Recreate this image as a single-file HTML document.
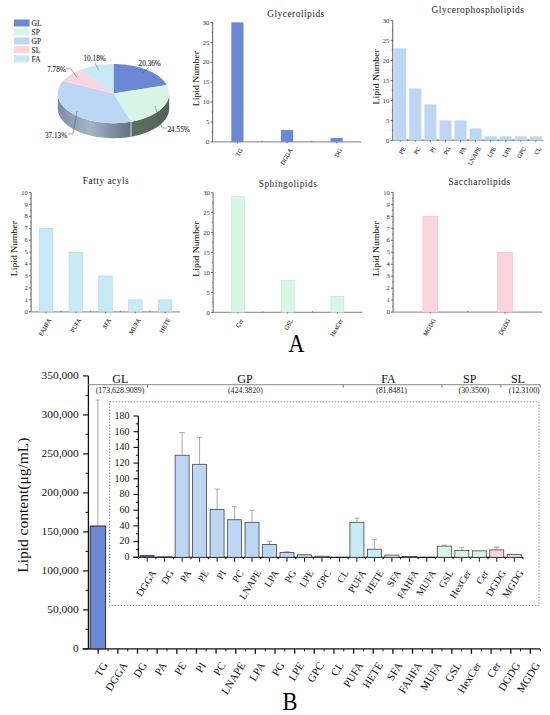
<!DOCTYPE html>
<html><head><meta charset="utf-8"><style>
html,body{margin:0;padding:0;background:#fff;}
svg{display:block;font-family:'Liberation Serif',serif;}
</style></head><body>
<svg width="550" height="715" viewBox="0 0 550 715">
<rect width="550" height="715" fill="#fff"/>
<rect x="14" y="19.50" width="15.5" height="7" fill="#6a88d4"/>
<text x="31.6" y="26.00" font-size="7.5" fill="#2a2a2a" stroke="#2a2a2a" stroke-width="0.12">GL</text>
<rect x="14" y="28.45" width="15.5" height="7" fill="#d8f6e8"/>
<text x="31.6" y="34.95" font-size="7.5" fill="#2a2a2a" stroke="#2a2a2a" stroke-width="0.12">SP</text>
<rect x="14" y="37.40" width="15.5" height="7" fill="#bcd6f3"/>
<text x="31.6" y="43.90" font-size="7.5" fill="#2a2a2a" stroke="#2a2a2a" stroke-width="0.12">GP</text>
<rect x="14" y="46.35" width="15.5" height="7" fill="#fcd4db"/>
<text x="31.6" y="52.85" font-size="7.5" fill="#2a2a2a" stroke="#2a2a2a" stroke-width="0.12">SL</text>
<rect x="14" y="55.30" width="15.5" height="7" fill="#c8e9f6"/>
<text x="31.6" y="61.80" font-size="7.5" fill="#2a2a2a" stroke="#2a2a2a" stroke-width="0.12">FA</text>
<defs><linearGradient id="gpside" x1="57" x2="131" y1="0" y2="0" gradientUnits="userSpaceOnUse"><stop offset="0" stop-color="#7c8ca3"/><stop offset="0.45" stop-color="#a3b3c8"/><stop offset="1" stop-color="#647183"/></linearGradient><linearGradient id="spside" x1="131" x2="170" y1="0" y2="0" gradientUnits="userSpaceOnUse"><stop offset="0" stop-color="#5e6e60"/><stop offset="1" stop-color="#526254"/></linearGradient></defs>
<path d="M169.20,93.60 L169.17,94.53 L169.09,95.45 L168.96,96.37 L168.76,97.29 L168.52,98.21 L168.22,99.12 L167.87,100.03 L167.47,100.93 L167.01,101.82 L166.50,102.71 L165.94,103.58 L165.32,104.45 L164.66,105.31 L163.95,106.15 L163.18,106.98 L162.37,107.80 L161.51,108.61 L160.60,109.40 L159.65,110.17 L158.65,110.93 L157.61,111.67 L156.53,112.40 L155.40,113.10 L154.23,113.79 L153.02,114.46 L151.78,115.10 L150.49,115.73 L149.17,116.33 L147.82,116.91 L146.43,117.47 L145.01,118.01 L143.56,118.52 L142.08,119.01 L140.57,119.47 L139.03,119.91 L137.47,120.32 L135.89,120.70 L134.28,121.06 L132.66,121.39 L131.01,121.70 L131.01,136.70 L132.66,136.39 L134.28,136.06 L135.89,135.70 L137.47,135.32 L139.03,134.91 L140.57,134.47 L142.08,134.01 L143.56,133.52 L145.01,133.01 L146.43,132.47 L147.82,131.91 L149.17,131.33 L150.49,130.73 L151.78,130.10 L153.02,129.46 L154.23,128.79 L155.40,128.10 L156.53,127.40 L157.61,126.67 L158.65,125.93 L159.65,125.17 L160.60,124.40 L161.51,123.61 L162.37,122.80 L163.18,121.98 L163.95,121.15 L164.66,120.31 L165.32,119.45 L165.94,118.58 L166.50,117.71 L167.01,116.82 L167.47,115.93 L167.87,115.03 L168.22,114.12 L168.52,113.21 L168.76,112.29 L168.96,111.37 L169.09,110.45 L169.17,109.53 L169.20,108.60 Z" fill="url(#spside)"/>
<path d="M131.01,121.70 L128.49,122.11 L125.94,122.45 L123.36,122.73 L120.76,122.95 L118.14,123.10 L115.52,123.18 L112.88,123.20 L110.25,123.15 L107.63,123.04 L105.02,122.85 L102.43,122.61 L99.86,122.30 L97.33,121.92 L94.83,121.49 L92.37,120.99 L89.96,120.43 L87.60,119.80 L85.30,119.12 L83.06,118.39 L80.89,117.60 L78.79,116.75 L76.77,115.85 L74.83,114.91 L72.98,113.91 L71.22,112.87 L69.56,111.79 L67.99,110.66 L66.52,109.50 L65.16,108.31 L63.91,107.08 L62.76,105.82 L61.73,104.53 L60.82,103.22 L60.02,101.88 L59.35,100.53 L58.79,99.16 L58.36,97.78 L58.05,96.39 L57.86,95.00 L57.80,93.60 L57.80,108.60 L57.86,110.00 L58.05,111.39 L58.36,112.78 L58.79,114.16 L59.35,115.53 L60.02,116.88 L60.82,118.22 L61.73,119.53 L62.76,120.82 L63.91,122.08 L65.16,123.31 L66.52,124.50 L67.99,125.66 L69.56,126.79 L71.22,127.87 L72.98,128.91 L74.83,129.91 L76.77,130.85 L78.79,131.75 L80.89,132.60 L83.06,133.39 L85.30,134.12 L87.60,134.80 L89.96,135.43 L92.37,135.99 L94.83,136.49 L97.33,136.92 L99.86,137.30 L102.43,137.61 L105.02,137.85 L107.63,138.04 L110.25,138.15 L112.88,138.20 L115.52,138.18 L118.14,138.10 L120.76,137.95 L123.36,137.73 L125.94,137.45 L128.49,137.11 L131.01,136.70 Z" fill="url(#gpside)"/>
<line x1="131.01" y1="121.70" x2="131.01" y2="136.70" stroke="#c4cccc" stroke-width="1.2"/>
<path d="M113.5,93.6 L113.50,64.00 L115.28,64.02 L117.06,64.06 L118.84,64.14 L120.61,64.24 L122.37,64.38 L124.12,64.54 L125.87,64.74 L127.60,64.96 L129.31,65.22 L131.01,65.50 L132.69,65.81 L134.36,66.15 L136.00,66.52 L137.61,66.92 L139.21,67.34 L140.77,67.79 L142.31,68.27 L143.82,68.77 L145.30,69.30 L146.75,69.85 L148.16,70.43 L149.54,71.03 L150.88,71.65 L152.18,72.30 L153.44,72.97 L154.66,73.66 L155.84,74.37 L156.97,75.10 L158.07,75.84 L159.11,76.61 L160.11,77.39 L161.06,78.19 L161.96,79.01 L162.82,79.84 L163.62,80.69 L164.37,81.54 L165.07,82.42 L165.72,83.30 L166.31,84.19 L166.85,85.09 Z" fill="#6a88d4"/>
<path d="M113.5,93.6 L166.85,85.09 L167.43,86.19 L167.92,87.30 L168.34,88.42 L168.68,89.55 L168.93,90.68 L169.10,91.82 L169.19,92.96 L169.19,94.10 L169.11,95.24 L168.95,96.38 L168.71,97.52 L168.39,98.64 L167.98,99.76 L167.49,100.88 L166.92,101.98 L166.28,103.06 L165.55,104.14 L164.75,105.20 L163.87,106.24 L162.91,107.26 L161.88,108.26 L160.79,109.24 L159.62,110.20 L158.38,111.13 L157.07,112.04 L155.70,112.92 L154.27,113.77 L152.77,114.59 L151.22,115.38 L149.61,116.14 L147.95,116.86 L146.24,117.55 L144.48,118.20 L142.67,118.82 L140.82,119.40 L138.93,119.94 L137.00,120.44 L135.03,120.90 L133.04,121.32 L131.01,121.70 Z" fill="#d8f6e8"/>
<path d="M113.5,93.6 L131.01,121.70 L127.90,122.19 L124.74,122.59 L121.54,122.89 L118.31,123.09 L115.07,123.19 L111.82,123.19 L108.58,123.08 L105.35,122.88 L102.16,122.58 L99.00,122.18 L95.89,121.68 L92.84,121.09 L89.86,120.40 L86.96,119.62 L84.15,118.76 L81.44,117.80 L78.84,116.77 L76.35,115.66 L74.00,114.47 L71.78,113.21 L69.70,111.88 L67.77,110.50 L65.99,109.05 L64.38,107.55 L62.93,106.01 L61.65,104.42 L60.56,102.80 L59.64,101.14 L58.90,99.46 L58.35,97.76 L57.99,96.04 L57.82,94.32 L57.83,92.59 L58.04,90.87 L58.43,89.16 L59.01,87.46 L59.78,85.78 L60.73,84.13 L61.86,82.51 L63.16,80.93 Z" fill="#bcd6f3"/>
<path d="M113.5,93.6 L63.16,80.93 L63.46,80.60 L63.76,80.28 L64.07,79.96 L64.39,79.64 L64.71,79.32 L65.04,79.00 L65.38,78.69 L65.73,78.38 L66.08,78.07 L66.44,77.76 L66.81,77.46 L67.19,77.16 L67.57,76.86 L67.96,76.56 L68.35,76.27 L68.75,75.97 L69.16,75.68 L69.58,75.40 L70.00,75.11 L70.43,74.83 L70.86,74.55 L71.30,74.28 L71.75,74.01 L72.20,73.74 L72.66,73.47 L73.13,73.21 L73.60,72.95 L74.08,72.69 L74.56,72.43 L75.05,72.18 L75.55,71.93 L76.05,71.69 L76.56,71.45 L77.07,71.21 L77.59,70.97 L78.11,70.74 L78.64,70.51 L79.17,70.29 L79.71,70.07 L80.25,69.85 Z" fill="#fcd4db"/>
<path d="M113.5,93.6 L80.25,69.85 L80.97,69.57 L81.70,69.30 L82.43,69.03 L83.18,68.77 L83.93,68.52 L84.69,68.27 L85.45,68.03 L86.23,67.79 L87.01,67.56 L87.79,67.34 L88.59,67.13 L89.39,66.92 L90.19,66.72 L91.00,66.52 L91.82,66.33 L92.64,66.15 L93.47,65.98 L94.31,65.81 L95.15,65.65 L95.99,65.50 L96.84,65.36 L97.69,65.22 L98.54,65.09 L99.40,64.96 L100.27,64.85 L101.13,64.74 L102.00,64.64 L102.88,64.54 L103.75,64.46 L104.63,64.38 L105.51,64.31 L106.39,64.24 L107.28,64.19 L108.16,64.14 L109.05,64.09 L109.94,64.06 L110.83,64.03 L111.72,64.02 L112.61,64.00 L113.50,64.00 Z" fill="#c8e9f6"/>
<polyline points="142,73 149.5,67" fill="none" stroke="#555" stroke-width="0.5"/>
<text transform="translate(138.6,66.4) scale(0.84,1)" font-size="8.6" fill="#2a2a2a" stroke="#2a2a2a" stroke-width="0.12">20.36%</text>
<polyline points="155,106 162,128 167,128" fill="none" stroke="#555" stroke-width="0.5"/>
<text transform="translate(167.5,131.8) scale(0.84,1)" font-size="8.6" fill="#2a2a2a" stroke="#2a2a2a" stroke-width="0.12">24.55%</text>
<polyline points="77,111 73,134 68,134" fill="none" stroke="#555" stroke-width="0.5"/>
<text transform="translate(44.9,138.2) scale(0.84,1)" font-size="8.6" fill="#2a2a2a" stroke="#2a2a2a" stroke-width="0.12">37.13%</text>
<polyline points="66,69 71.2,69 76.9,77.4" fill="none" stroke="#555" stroke-width="0.5"/>
<text transform="translate(47.2,71.9) scale(0.84,1)" font-size="8.6" fill="#2a2a2a" stroke="#2a2a2a" stroke-width="0.12">7.78%</text>
<polyline points="94.7,62.7 98.5,69.7" fill="none" stroke="#555" stroke-width="0.5"/>
<text transform="translate(83.5,61.2) scale(0.84,1)" font-size="8.6" fill="#2a2a2a" stroke="#2a2a2a" stroke-width="0.12">10.18%</text>
<line x1="212.6" y1="22.4" x2="212.6" y2="141.9" stroke="#777" stroke-width="1.2"/>
<line x1="212.15" y1="141.9" x2="361.5" y2="141.9" stroke="#9a9a9a" stroke-width="1.2"/>
<line x1="210.6" y1="141.90" x2="212.6" y2="141.90" stroke="#444" stroke-width="0.8"/>
<text x="209.29999999999998" y="144.10" font-size="6.6" text-anchor="end" fill="#333">0</text>
<line x1="210.6" y1="121.98" x2="212.6" y2="121.98" stroke="#444" stroke-width="0.8"/>
<text x="209.29999999999998" y="124.18" font-size="6.6" text-anchor="end" fill="#333">5</text>
<line x1="210.6" y1="102.07" x2="212.6" y2="102.07" stroke="#444" stroke-width="0.8"/>
<text x="209.29999999999998" y="104.27" font-size="6.6" text-anchor="end" fill="#333">10</text>
<line x1="210.6" y1="82.15" x2="212.6" y2="82.15" stroke="#444" stroke-width="0.8"/>
<text x="209.29999999999998" y="84.35" font-size="6.6" text-anchor="end" fill="#333">15</text>
<line x1="210.6" y1="62.23" x2="212.6" y2="62.23" stroke="#444" stroke-width="0.8"/>
<text x="209.29999999999998" y="64.43" font-size="6.6" text-anchor="end" fill="#333">20</text>
<line x1="210.6" y1="42.32" x2="212.6" y2="42.32" stroke="#444" stroke-width="0.8"/>
<text x="209.29999999999998" y="44.52" font-size="6.6" text-anchor="end" fill="#333">25</text>
<line x1="210.6" y1="22.40" x2="212.6" y2="22.40" stroke="#444" stroke-width="0.8"/>
<text x="209.29999999999998" y="24.60" font-size="6.6" text-anchor="end" fill="#333">30</text>
<line x1="211.6" y1="131.94" x2="212.6" y2="131.94" stroke="#444" stroke-width="0.7"/>
<line x1="211.6" y1="112.03" x2="212.6" y2="112.03" stroke="#444" stroke-width="0.7"/>
<line x1="211.6" y1="92.11" x2="212.6" y2="92.11" stroke="#444" stroke-width="0.7"/>
<line x1="211.6" y1="72.19" x2="212.6" y2="72.19" stroke="#444" stroke-width="0.7"/>
<line x1="211.6" y1="52.28" x2="212.6" y2="52.28" stroke="#444" stroke-width="0.7"/>
<line x1="211.6" y1="32.36" x2="212.6" y2="32.36" stroke="#444" stroke-width="0.7"/>
<rect x="231.32" y="22.40" width="12.2" height="119.50" fill="#6a88d4"/>
<line x1="237.42" y1="141.9" x2="237.42" y2="143.4" stroke="#444" stroke-width="0.7"/>
<text transform="translate(243.02,149.90) rotate(-60)" font-size="6.2" text-anchor="end" fill="#222" stroke="#222" stroke-width="0.08">TG</text>
<rect x="280.95" y="129.95" width="12.2" height="11.95" fill="#6a88d4"/>
<line x1="287.05" y1="141.9" x2="287.05" y2="143.4" stroke="#444" stroke-width="0.7"/>
<text transform="translate(292.65,149.90) rotate(-60)" font-size="6.2" text-anchor="end" fill="#222" stroke="#222" stroke-width="0.08">DGGA</text>
<rect x="330.58" y="137.92" width="12.2" height="3.98" fill="#6a88d4"/>
<line x1="336.68" y1="141.9" x2="336.68" y2="143.4" stroke="#444" stroke-width="0.7"/>
<text transform="translate(342.28,149.90) rotate(-60)" font-size="6.2" text-anchor="end" fill="#222" stroke="#222" stroke-width="0.08">DG</text>
<line x1="262.23" y1="140.70000000000002" x2="262.23" y2="141.9" stroke="#444" stroke-width="0.7"/>
<line x1="311.87" y1="140.70000000000002" x2="311.87" y2="141.9" stroke="#444" stroke-width="0.7"/>
<text transform="translate(198.79999999999998,78.65) rotate(-90) scale(1.09,1)" font-size="8.9" text-anchor="middle" fill="#111" stroke="#111" stroke-width="0.05">Lipid Number</text>
<text x="296" y="17" font-size="9.4" text-anchor="middle" fill="#222" letter-spacing="0.5">Glycerolipids</text>
<line x1="392.7" y1="20.4" x2="392.7" y2="140.4" stroke="#777" stroke-width="1.2"/>
<line x1="392.25" y1="140.4" x2="543.4" y2="140.4" stroke="#9a9a9a" stroke-width="1.2"/>
<line x1="390.7" y1="140.40" x2="392.7" y2="140.40" stroke="#444" stroke-width="0.8"/>
<text x="389.4" y="142.60" font-size="6.6" text-anchor="end" fill="#333">0</text>
<line x1="390.7" y1="120.40" x2="392.7" y2="120.40" stroke="#444" stroke-width="0.8"/>
<text x="389.4" y="122.60" font-size="6.6" text-anchor="end" fill="#333">5</text>
<line x1="390.7" y1="100.40" x2="392.7" y2="100.40" stroke="#444" stroke-width="0.8"/>
<text x="389.4" y="102.60" font-size="6.6" text-anchor="end" fill="#333">10</text>
<line x1="390.7" y1="80.40" x2="392.7" y2="80.40" stroke="#444" stroke-width="0.8"/>
<text x="389.4" y="82.60" font-size="6.6" text-anchor="end" fill="#333">15</text>
<line x1="390.7" y1="60.40" x2="392.7" y2="60.40" stroke="#444" stroke-width="0.8"/>
<text x="389.4" y="62.60" font-size="6.6" text-anchor="end" fill="#333">20</text>
<line x1="390.7" y1="40.40" x2="392.7" y2="40.40" stroke="#444" stroke-width="0.8"/>
<text x="389.4" y="42.60" font-size="6.6" text-anchor="end" fill="#333">25</text>
<line x1="390.7" y1="20.40" x2="392.7" y2="20.40" stroke="#444" stroke-width="0.8"/>
<text x="389.4" y="22.60" font-size="6.6" text-anchor="end" fill="#333">30</text>
<line x1="391.7" y1="130.40" x2="392.7" y2="130.40" stroke="#444" stroke-width="0.7"/>
<line x1="391.7" y1="110.40" x2="392.7" y2="110.40" stroke="#444" stroke-width="0.7"/>
<line x1="391.7" y1="90.40" x2="392.7" y2="90.40" stroke="#444" stroke-width="0.7"/>
<line x1="391.7" y1="70.40" x2="392.7" y2="70.40" stroke="#444" stroke-width="0.7"/>
<line x1="391.7" y1="50.40" x2="392.7" y2="50.40" stroke="#444" stroke-width="0.7"/>
<line x1="391.7" y1="30.40" x2="392.7" y2="30.40" stroke="#444" stroke-width="0.7"/>
<rect x="394.24" y="48.40" width="12" height="92.00" fill="#bcd6f3"/>
<line x1="400.24" y1="140.4" x2="400.24" y2="141.9" stroke="#444" stroke-width="0.7"/>
<text transform="translate(405.84,148.40) rotate(-60)" font-size="6.2" text-anchor="end" fill="#222" stroke="#222" stroke-width="0.08">PE</text>
<rect x="409.31" y="88.40" width="12" height="52.00" fill="#bcd6f3"/>
<line x1="415.31" y1="140.4" x2="415.31" y2="141.9" stroke="#444" stroke-width="0.7"/>
<text transform="translate(420.91,148.40) rotate(-60)" font-size="6.2" text-anchor="end" fill="#222" stroke="#222" stroke-width="0.08">PC</text>
<rect x="424.38" y="104.40" width="12" height="36.00" fill="#bcd6f3"/>
<line x1="430.38" y1="140.4" x2="430.38" y2="141.9" stroke="#444" stroke-width="0.7"/>
<text transform="translate(435.98,148.40) rotate(-60)" font-size="6.2" text-anchor="end" fill="#222" stroke="#222" stroke-width="0.08">PI</text>
<rect x="439.44" y="120.40" width="12" height="20.00" fill="#bcd6f3"/>
<line x1="445.44" y1="140.4" x2="445.44" y2="141.9" stroke="#444" stroke-width="0.7"/>
<text transform="translate(451.05,148.40) rotate(-60)" font-size="6.2" text-anchor="end" fill="#222" stroke="#222" stroke-width="0.08">PG</text>
<rect x="454.51" y="120.40" width="12" height="20.00" fill="#bcd6f3"/>
<line x1="460.51" y1="140.4" x2="460.51" y2="141.9" stroke="#444" stroke-width="0.7"/>
<text transform="translate(466.12,148.40) rotate(-60)" font-size="6.2" text-anchor="end" fill="#222" stroke="#222" stroke-width="0.08">PA</text>
<rect x="469.58" y="128.40" width="12" height="12.00" fill="#bcd6f3"/>
<line x1="475.58" y1="140.4" x2="475.58" y2="141.9" stroke="#444" stroke-width="0.7"/>
<text transform="translate(481.19,148.40) rotate(-60)" font-size="6.2" text-anchor="end" fill="#222" stroke="#222" stroke-width="0.08">LNAPE</text>
<rect x="484.65" y="136.40" width="12" height="4.00" fill="#bcd6f3"/>
<line x1="490.65" y1="140.4" x2="490.65" y2="141.9" stroke="#444" stroke-width="0.7"/>
<text transform="translate(496.25,148.40) rotate(-60)" font-size="6.2" text-anchor="end" fill="#222" stroke="#222" stroke-width="0.08">LPE</text>
<rect x="499.72" y="136.40" width="12" height="4.00" fill="#bcd6f3"/>
<line x1="505.72" y1="140.4" x2="505.72" y2="141.9" stroke="#444" stroke-width="0.7"/>
<text transform="translate(511.32,148.40) rotate(-60)" font-size="6.2" text-anchor="end" fill="#222" stroke="#222" stroke-width="0.08">LPA</text>
<rect x="514.79" y="136.40" width="12" height="4.00" fill="#bcd6f3"/>
<line x1="520.79" y1="140.4" x2="520.79" y2="141.9" stroke="#444" stroke-width="0.7"/>
<text transform="translate(526.39,148.40) rotate(-60)" font-size="6.2" text-anchor="end" fill="#222" stroke="#222" stroke-width="0.08">GPC</text>
<rect x="529.87" y="136.40" width="12" height="4.00" fill="#bcd6f3"/>
<line x1="535.87" y1="140.4" x2="535.87" y2="141.9" stroke="#444" stroke-width="0.7"/>
<text transform="translate(541.47,148.40) rotate(-60)" font-size="6.2" text-anchor="end" fill="#222" stroke="#222" stroke-width="0.08">CL</text>
<line x1="407.77" y1="139.20000000000002" x2="407.77" y2="140.4" stroke="#444" stroke-width="0.7"/>
<line x1="422.84" y1="139.20000000000002" x2="422.84" y2="140.4" stroke="#444" stroke-width="0.7"/>
<line x1="437.91" y1="139.20000000000002" x2="437.91" y2="140.4" stroke="#444" stroke-width="0.7"/>
<line x1="452.98" y1="139.20000000000002" x2="452.98" y2="140.4" stroke="#444" stroke-width="0.7"/>
<line x1="468.05" y1="139.20000000000002" x2="468.05" y2="140.4" stroke="#444" stroke-width="0.7"/>
<line x1="483.12" y1="139.20000000000002" x2="483.12" y2="140.4" stroke="#444" stroke-width="0.7"/>
<line x1="498.19" y1="139.20000000000002" x2="498.19" y2="140.4" stroke="#444" stroke-width="0.7"/>
<line x1="513.26" y1="139.20000000000002" x2="513.26" y2="140.4" stroke="#444" stroke-width="0.7"/>
<line x1="528.33" y1="139.20000000000002" x2="528.33" y2="140.4" stroke="#444" stroke-width="0.7"/>
<text transform="translate(378.9,76.90) rotate(-90) scale(1.09,1)" font-size="8.9" text-anchor="middle" fill="#111" stroke="#111" stroke-width="0.05">Lipid Number</text>
<text x="478" y="12.5" font-size="9.4" text-anchor="middle" fill="#222" letter-spacing="0.5">Glycerophospholipids</text>
<line x1="31.1" y1="192.4" x2="31.1" y2="311.8" stroke="#777" stroke-width="1.2"/>
<line x1="30.650000000000002" y1="311.8" x2="180" y2="311.8" stroke="#9a9a9a" stroke-width="1.2"/>
<line x1="29.1" y1="311.80" x2="31.1" y2="311.80" stroke="#444" stroke-width="0.8"/>
<text x="27.8" y="314.00" font-size="6.6" text-anchor="end" fill="#333">0</text>
<line x1="29.1" y1="299.86" x2="31.1" y2="299.86" stroke="#444" stroke-width="0.8"/>
<text x="27.8" y="302.06" font-size="6.6" text-anchor="end" fill="#333">1</text>
<line x1="29.1" y1="287.92" x2="31.1" y2="287.92" stroke="#444" stroke-width="0.8"/>
<text x="27.8" y="290.12" font-size="6.6" text-anchor="end" fill="#333">2</text>
<line x1="29.1" y1="275.98" x2="31.1" y2="275.98" stroke="#444" stroke-width="0.8"/>
<text x="27.8" y="278.18" font-size="6.6" text-anchor="end" fill="#333">3</text>
<line x1="29.1" y1="264.04" x2="31.1" y2="264.04" stroke="#444" stroke-width="0.8"/>
<text x="27.8" y="266.24" font-size="6.6" text-anchor="end" fill="#333">4</text>
<line x1="29.1" y1="252.10" x2="31.1" y2="252.10" stroke="#444" stroke-width="0.8"/>
<text x="27.8" y="254.30" font-size="6.6" text-anchor="end" fill="#333">5</text>
<line x1="29.1" y1="240.16" x2="31.1" y2="240.16" stroke="#444" stroke-width="0.8"/>
<text x="27.8" y="242.36" font-size="6.6" text-anchor="end" fill="#333">6</text>
<line x1="29.1" y1="228.22" x2="31.1" y2="228.22" stroke="#444" stroke-width="0.8"/>
<text x="27.8" y="230.42" font-size="6.6" text-anchor="end" fill="#333">7</text>
<line x1="29.1" y1="216.28" x2="31.1" y2="216.28" stroke="#444" stroke-width="0.8"/>
<text x="27.8" y="218.48" font-size="6.6" text-anchor="end" fill="#333">8</text>
<line x1="29.1" y1="204.34" x2="31.1" y2="204.34" stroke="#444" stroke-width="0.8"/>
<text x="27.8" y="206.54" font-size="6.6" text-anchor="end" fill="#333">9</text>
<line x1="29.1" y1="192.40" x2="31.1" y2="192.40" stroke="#444" stroke-width="0.8"/>
<text x="27.8" y="194.60" font-size="6.6" text-anchor="end" fill="#333">10</text>
<line x1="30.1" y1="305.83" x2="31.1" y2="305.83" stroke="#444" stroke-width="0.7"/>
<line x1="30.1" y1="293.89" x2="31.1" y2="293.89" stroke="#444" stroke-width="0.7"/>
<line x1="30.1" y1="281.95" x2="31.1" y2="281.95" stroke="#444" stroke-width="0.7"/>
<line x1="30.1" y1="270.01" x2="31.1" y2="270.01" stroke="#444" stroke-width="0.7"/>
<line x1="30.1" y1="258.07" x2="31.1" y2="258.07" stroke="#444" stroke-width="0.7"/>
<line x1="30.1" y1="246.13" x2="31.1" y2="246.13" stroke="#444" stroke-width="0.7"/>
<line x1="30.1" y1="234.19" x2="31.1" y2="234.19" stroke="#444" stroke-width="0.7"/>
<line x1="30.1" y1="222.25" x2="31.1" y2="222.25" stroke="#444" stroke-width="0.7"/>
<line x1="30.1" y1="210.31" x2="31.1" y2="210.31" stroke="#444" stroke-width="0.7"/>
<line x1="30.1" y1="198.37" x2="31.1" y2="198.37" stroke="#444" stroke-width="0.7"/>
<rect x="39.19" y="228.22" width="13.6" height="83.58" fill="#c8e9f6" stroke="#a8d4e6" stroke-width="0.5"/>
<line x1="45.99" y1="311.8" x2="45.99" y2="313.3" stroke="#444" stroke-width="0.7"/>
<text transform="translate(51.59,319.80) rotate(-60)" font-size="6.2" text-anchor="end" fill="#222" stroke="#222" stroke-width="0.08">FAHFA</text>
<rect x="68.97" y="252.10" width="13.6" height="59.70" fill="#c8e9f6" stroke="#a8d4e6" stroke-width="0.5"/>
<line x1="75.77" y1="311.8" x2="75.77" y2="313.3" stroke="#444" stroke-width="0.7"/>
<text transform="translate(81.37,319.80) rotate(-60)" font-size="6.2" text-anchor="end" fill="#222" stroke="#222" stroke-width="0.08">PUFA</text>
<rect x="98.75" y="275.98" width="13.6" height="35.82" fill="#c8e9f6" stroke="#a8d4e6" stroke-width="0.5"/>
<line x1="105.55" y1="311.8" x2="105.55" y2="313.3" stroke="#444" stroke-width="0.7"/>
<text transform="translate(111.15,319.80) rotate(-60)" font-size="6.2" text-anchor="end" fill="#222" stroke="#222" stroke-width="0.08">SFA</text>
<rect x="128.53" y="299.86" width="13.6" height="11.94" fill="#c8e9f6" stroke="#a8d4e6" stroke-width="0.5"/>
<line x1="135.33" y1="311.8" x2="135.33" y2="313.3" stroke="#444" stroke-width="0.7"/>
<text transform="translate(140.93,319.80) rotate(-60)" font-size="6.2" text-anchor="end" fill="#222" stroke="#222" stroke-width="0.08">MUFA</text>
<rect x="158.31" y="299.86" width="13.6" height="11.94" fill="#c8e9f6" stroke="#a8d4e6" stroke-width="0.5"/>
<line x1="165.11" y1="311.8" x2="165.11" y2="313.3" stroke="#444" stroke-width="0.7"/>
<text transform="translate(170.71,319.80) rotate(-60)" font-size="6.2" text-anchor="end" fill="#222" stroke="#222" stroke-width="0.08">HETE</text>
<line x1="60.88" y1="310.6" x2="60.88" y2="311.8" stroke="#444" stroke-width="0.7"/>
<line x1="90.66" y1="310.6" x2="90.66" y2="311.8" stroke="#444" stroke-width="0.7"/>
<line x1="120.44" y1="310.6" x2="120.44" y2="311.8" stroke="#444" stroke-width="0.7"/>
<line x1="150.22" y1="310.6" x2="150.22" y2="311.8" stroke="#444" stroke-width="0.7"/>
<text transform="translate(17.3,248.60) rotate(-90) scale(1.09,1)" font-size="8.9" text-anchor="middle" fill="#111" stroke="#111" stroke-width="0.05">Lipid Number</text>
<text x="106" y="184" font-size="9.4" text-anchor="middle" fill="#222" letter-spacing="0.5">Fatty acyls</text>
<line x1="213.1" y1="192.7" x2="213.1" y2="312.4" stroke="#777" stroke-width="1.2"/>
<line x1="212.65" y1="312.4" x2="362.3" y2="312.4" stroke="#9a9a9a" stroke-width="1.2"/>
<line x1="211.1" y1="312.40" x2="213.1" y2="312.40" stroke="#444" stroke-width="0.8"/>
<text x="209.79999999999998" y="314.60" font-size="6.6" text-anchor="end" fill="#333">0</text>
<line x1="211.1" y1="292.45" x2="213.1" y2="292.45" stroke="#444" stroke-width="0.8"/>
<text x="209.79999999999998" y="294.65" font-size="6.6" text-anchor="end" fill="#333">5</text>
<line x1="211.1" y1="272.50" x2="213.1" y2="272.50" stroke="#444" stroke-width="0.8"/>
<text x="209.79999999999998" y="274.70" font-size="6.6" text-anchor="end" fill="#333">10</text>
<line x1="211.1" y1="252.55" x2="213.1" y2="252.55" stroke="#444" stroke-width="0.8"/>
<text x="209.79999999999998" y="254.75" font-size="6.6" text-anchor="end" fill="#333">15</text>
<line x1="211.1" y1="232.60" x2="213.1" y2="232.60" stroke="#444" stroke-width="0.8"/>
<text x="209.79999999999998" y="234.80" font-size="6.6" text-anchor="end" fill="#333">20</text>
<line x1="211.1" y1="212.65" x2="213.1" y2="212.65" stroke="#444" stroke-width="0.8"/>
<text x="209.79999999999998" y="214.85" font-size="6.6" text-anchor="end" fill="#333">25</text>
<line x1="211.1" y1="192.70" x2="213.1" y2="192.70" stroke="#444" stroke-width="0.8"/>
<text x="209.79999999999998" y="194.90" font-size="6.6" text-anchor="end" fill="#333">30</text>
<line x1="212.1" y1="302.42" x2="213.1" y2="302.42" stroke="#444" stroke-width="0.7"/>
<line x1="212.1" y1="282.47" x2="213.1" y2="282.47" stroke="#444" stroke-width="0.7"/>
<line x1="212.1" y1="262.52" x2="213.1" y2="262.52" stroke="#444" stroke-width="0.7"/>
<line x1="212.1" y1="242.57" x2="213.1" y2="242.57" stroke="#444" stroke-width="0.7"/>
<line x1="212.1" y1="222.62" x2="213.1" y2="222.62" stroke="#444" stroke-width="0.7"/>
<line x1="212.1" y1="202.67" x2="213.1" y2="202.67" stroke="#444" stroke-width="0.7"/>
<rect x="231.47" y="196.69" width="13" height="115.71" fill="#d8f6e8" stroke="#b8e2cc" stroke-width="0.5"/>
<line x1="237.97" y1="312.4" x2="237.97" y2="313.9" stroke="#444" stroke-width="0.7"/>
<text transform="translate(243.57,320.40) rotate(-60)" font-size="6.2" text-anchor="end" fill="#222" stroke="#222" stroke-width="0.08">Cer</text>
<rect x="281.20" y="280.48" width="13" height="31.92" fill="#d8f6e8" stroke="#b8e2cc" stroke-width="0.5"/>
<line x1="287.70" y1="312.4" x2="287.70" y2="313.9" stroke="#444" stroke-width="0.7"/>
<text transform="translate(293.30,320.40) rotate(-60)" font-size="6.2" text-anchor="end" fill="#222" stroke="#222" stroke-width="0.08">GSL</text>
<rect x="330.93" y="296.44" width="13" height="15.96" fill="#d8f6e8" stroke="#b8e2cc" stroke-width="0.5"/>
<line x1="337.43" y1="312.4" x2="337.43" y2="313.9" stroke="#444" stroke-width="0.7"/>
<text transform="translate(343.03,320.40) rotate(-60)" font-size="6.2" text-anchor="end" fill="#222" stroke="#222" stroke-width="0.08">HexCer</text>
<line x1="262.83" y1="311.2" x2="262.83" y2="312.4" stroke="#444" stroke-width="0.7"/>
<line x1="312.57" y1="311.2" x2="312.57" y2="312.4" stroke="#444" stroke-width="0.7"/>
<text transform="translate(199.29999999999998,249.05) rotate(-90) scale(1.09,1)" font-size="8.9" text-anchor="middle" fill="#111" stroke="#111" stroke-width="0.05">Lipid Number</text>
<text x="288" y="187" font-size="9.4" text-anchor="middle" fill="#222" letter-spacing="0.5">Sphingolipids</text>
<line x1="393.1" y1="192.4" x2="393.1" y2="312.1" stroke="#777" stroke-width="1.2"/>
<line x1="392.65000000000003" y1="312.1" x2="542.3" y2="312.1" stroke="#9a9a9a" stroke-width="1.2"/>
<line x1="391.1" y1="312.10" x2="393.1" y2="312.10" stroke="#444" stroke-width="0.8"/>
<text x="389.8" y="314.30" font-size="6.6" text-anchor="end" fill="#333">0</text>
<line x1="391.1" y1="300.13" x2="393.1" y2="300.13" stroke="#444" stroke-width="0.8"/>
<text x="389.8" y="302.33" font-size="6.6" text-anchor="end" fill="#333">1</text>
<line x1="391.1" y1="288.16" x2="393.1" y2="288.16" stroke="#444" stroke-width="0.8"/>
<text x="389.8" y="290.36" font-size="6.6" text-anchor="end" fill="#333">2</text>
<line x1="391.1" y1="276.19" x2="393.1" y2="276.19" stroke="#444" stroke-width="0.8"/>
<text x="389.8" y="278.39" font-size="6.6" text-anchor="end" fill="#333">3</text>
<line x1="391.1" y1="264.22" x2="393.1" y2="264.22" stroke="#444" stroke-width="0.8"/>
<text x="389.8" y="266.42" font-size="6.6" text-anchor="end" fill="#333">4</text>
<line x1="391.1" y1="252.25" x2="393.1" y2="252.25" stroke="#444" stroke-width="0.8"/>
<text x="389.8" y="254.45" font-size="6.6" text-anchor="end" fill="#333">5</text>
<line x1="391.1" y1="240.28" x2="393.1" y2="240.28" stroke="#444" stroke-width="0.8"/>
<text x="389.8" y="242.48" font-size="6.6" text-anchor="end" fill="#333">6</text>
<line x1="391.1" y1="228.31" x2="393.1" y2="228.31" stroke="#444" stroke-width="0.8"/>
<text x="389.8" y="230.51" font-size="6.6" text-anchor="end" fill="#333">7</text>
<line x1="391.1" y1="216.34" x2="393.1" y2="216.34" stroke="#444" stroke-width="0.8"/>
<text x="389.8" y="218.54" font-size="6.6" text-anchor="end" fill="#333">8</text>
<line x1="391.1" y1="204.37" x2="393.1" y2="204.37" stroke="#444" stroke-width="0.8"/>
<text x="389.8" y="206.57" font-size="6.6" text-anchor="end" fill="#333">9</text>
<line x1="391.1" y1="192.40" x2="393.1" y2="192.40" stroke="#444" stroke-width="0.8"/>
<text x="389.8" y="194.60" font-size="6.6" text-anchor="end" fill="#333">10</text>
<line x1="392.1" y1="306.12" x2="393.1" y2="306.12" stroke="#444" stroke-width="0.7"/>
<line x1="392.1" y1="294.15" x2="393.1" y2="294.15" stroke="#444" stroke-width="0.7"/>
<line x1="392.1" y1="282.18" x2="393.1" y2="282.18" stroke="#444" stroke-width="0.7"/>
<line x1="392.1" y1="270.21" x2="393.1" y2="270.21" stroke="#444" stroke-width="0.7"/>
<line x1="392.1" y1="258.24" x2="393.1" y2="258.24" stroke="#444" stroke-width="0.7"/>
<line x1="392.1" y1="246.27" x2="393.1" y2="246.27" stroke="#444" stroke-width="0.7"/>
<line x1="392.1" y1="234.30" x2="393.1" y2="234.30" stroke="#444" stroke-width="0.7"/>
<line x1="392.1" y1="222.32" x2="393.1" y2="222.32" stroke="#444" stroke-width="0.7"/>
<line x1="392.1" y1="210.36" x2="393.1" y2="210.36" stroke="#444" stroke-width="0.7"/>
<line x1="392.1" y1="198.38" x2="393.1" y2="198.38" stroke="#444" stroke-width="0.7"/>
<rect x="422.90" y="216.34" width="15" height="95.76" fill="#fcd4db" stroke="#f2b8c4" stroke-width="0.5"/>
<line x1="430.40" y1="312.1" x2="430.40" y2="313.6" stroke="#444" stroke-width="0.7"/>
<text transform="translate(436.00,320.10) rotate(-60)" font-size="6.2" text-anchor="end" fill="#222" stroke="#222" stroke-width="0.08">MGDG</text>
<rect x="497.50" y="252.25" width="15" height="59.85" fill="#fcd4db" stroke="#f2b8c4" stroke-width="0.5"/>
<line x1="505.00" y1="312.1" x2="505.00" y2="313.6" stroke="#444" stroke-width="0.7"/>
<text transform="translate(510.60,320.10) rotate(-60)" font-size="6.2" text-anchor="end" fill="#222" stroke="#222" stroke-width="0.08">DGDG</text>
<line x1="467.70" y1="310.90000000000003" x2="467.70" y2="312.1" stroke="#444" stroke-width="0.7"/>
<text transform="translate(379.3,248.75) rotate(-90) scale(1.09,1)" font-size="8.9" text-anchor="middle" fill="#111" stroke="#111" stroke-width="0.05">Lipid Number</text>
<text x="479.5" y="184.5" font-size="9.4" text-anchor="middle" fill="#222" letter-spacing="0.5">Saccharolipids</text>
<text transform="translate(296.4,352.4) scale(0.9,1)" font-size="24.5" text-anchor="middle" fill="#000">A</text>
<line x1="88.4" y1="375.9" x2="88.4" y2="648.9" stroke="#111" stroke-width="1.3"/>
<line x1="82.6" y1="648.9" x2="540.2" y2="648.9" stroke="#111" stroke-width="1.3"/>
<line x1="83.10000000000001" y1="648.90" x2="88.4" y2="648.90" stroke="#111" stroke-width="1.2"/>
<text x="78.6" y="651.70" font-size="11.4" text-anchor="end" fill="#111">0</text>
<line x1="85.7" y1="629.40" x2="88.4" y2="629.40" stroke="#111" stroke-width="1.1"/>
<line x1="83.10000000000001" y1="609.90" x2="88.4" y2="609.90" stroke="#111" stroke-width="1.2"/>
<text x="78.6" y="612.70" font-size="11.4" text-anchor="end" fill="#111">50,000</text>
<line x1="85.7" y1="590.40" x2="88.4" y2="590.40" stroke="#111" stroke-width="1.1"/>
<line x1="83.10000000000001" y1="570.90" x2="88.4" y2="570.90" stroke="#111" stroke-width="1.2"/>
<text x="78.6" y="573.70" font-size="11.4" text-anchor="end" fill="#111">100,000</text>
<line x1="85.7" y1="551.40" x2="88.4" y2="551.40" stroke="#111" stroke-width="1.1"/>
<line x1="83.10000000000001" y1="531.90" x2="88.4" y2="531.90" stroke="#111" stroke-width="1.2"/>
<text x="78.6" y="534.70" font-size="11.4" text-anchor="end" fill="#111">150,000</text>
<line x1="85.7" y1="512.40" x2="88.4" y2="512.40" stroke="#111" stroke-width="1.1"/>
<line x1="83.10000000000001" y1="492.90" x2="88.4" y2="492.90" stroke="#111" stroke-width="1.2"/>
<text x="78.6" y="495.70" font-size="11.4" text-anchor="end" fill="#111">200,000</text>
<line x1="85.7" y1="473.40" x2="88.4" y2="473.40" stroke="#111" stroke-width="1.1"/>
<line x1="83.10000000000001" y1="453.90" x2="88.4" y2="453.90" stroke="#111" stroke-width="1.2"/>
<text x="78.6" y="456.70" font-size="11.4" text-anchor="end" fill="#111">250,000</text>
<line x1="85.7" y1="434.40" x2="88.4" y2="434.40" stroke="#111" stroke-width="1.1"/>
<line x1="83.10000000000001" y1="414.90" x2="88.4" y2="414.90" stroke="#111" stroke-width="1.2"/>
<text x="78.6" y="417.70" font-size="11.4" text-anchor="end" fill="#111">300,000</text>
<line x1="85.7" y1="395.40" x2="88.4" y2="395.40" stroke="#111" stroke-width="1.1"/>
<line x1="83.10000000000001" y1="375.90" x2="88.4" y2="375.90" stroke="#111" stroke-width="1.2"/>
<text x="78.6" y="378.70" font-size="11.4" text-anchor="end" fill="#111">350,000</text>
<line x1="98.22" y1="648.9" x2="98.22" y2="653.6999999999999" stroke="#111" stroke-width="1.3"/>
<text transform="translate(108.22,665.10) rotate(-58)" font-size="11" text-anchor="end" fill="#111">TG</text>
<line x1="117.87" y1="648.9" x2="117.87" y2="653.6999999999999" stroke="#111" stroke-width="1.3"/>
<text transform="translate(127.87,665.10) rotate(-58)" font-size="11" text-anchor="end" fill="#111">DGGA</text>
<line x1="137.51" y1="648.9" x2="137.51" y2="653.6999999999999" stroke="#111" stroke-width="1.3"/>
<text transform="translate(147.51,665.10) rotate(-58)" font-size="11" text-anchor="end" fill="#111">DG</text>
<line x1="157.15" y1="648.9" x2="157.15" y2="653.6999999999999" stroke="#111" stroke-width="1.3"/>
<text transform="translate(167.15,665.10) rotate(-58)" font-size="11" text-anchor="end" fill="#111">PA</text>
<line x1="176.80" y1="648.9" x2="176.80" y2="653.6999999999999" stroke="#111" stroke-width="1.3"/>
<text transform="translate(186.80,665.10) rotate(-58)" font-size="11" text-anchor="end" fill="#111">PE</text>
<line x1="196.44" y1="648.9" x2="196.44" y2="653.6999999999999" stroke="#111" stroke-width="1.3"/>
<text transform="translate(206.44,665.10) rotate(-58)" font-size="11" text-anchor="end" fill="#111">PI</text>
<line x1="216.08" y1="648.9" x2="216.08" y2="653.6999999999999" stroke="#111" stroke-width="1.3"/>
<text transform="translate(226.08,665.10) rotate(-58)" font-size="11" text-anchor="end" fill="#111">PC</text>
<line x1="235.73" y1="648.9" x2="235.73" y2="653.6999999999999" stroke="#111" stroke-width="1.3"/>
<text transform="translate(245.73,665.10) rotate(-58)" font-size="11" text-anchor="end" fill="#111">LNAPE</text>
<line x1="255.37" y1="648.9" x2="255.37" y2="653.6999999999999" stroke="#111" stroke-width="1.3"/>
<text transform="translate(265.37,665.10) rotate(-58)" font-size="11" text-anchor="end" fill="#111">LPA</text>
<line x1="275.01" y1="648.9" x2="275.01" y2="653.6999999999999" stroke="#111" stroke-width="1.3"/>
<text transform="translate(285.01,665.10) rotate(-58)" font-size="11" text-anchor="end" fill="#111">PG</text>
<line x1="294.66" y1="648.9" x2="294.66" y2="653.6999999999999" stroke="#111" stroke-width="1.3"/>
<text transform="translate(304.66,665.10) rotate(-58)" font-size="11" text-anchor="end" fill="#111">LPE</text>
<line x1="314.30" y1="648.9" x2="314.30" y2="653.6999999999999" stroke="#111" stroke-width="1.3"/>
<text transform="translate(324.30,665.10) rotate(-58)" font-size="11" text-anchor="end" fill="#111">GPC</text>
<line x1="333.94" y1="648.9" x2="333.94" y2="653.6999999999999" stroke="#111" stroke-width="1.3"/>
<text transform="translate(343.94,665.10) rotate(-58)" font-size="11" text-anchor="end" fill="#111">CL</text>
<line x1="353.59" y1="648.9" x2="353.59" y2="653.6999999999999" stroke="#111" stroke-width="1.3"/>
<text transform="translate(363.59,665.10) rotate(-58)" font-size="11" text-anchor="end" fill="#111">PUFA</text>
<line x1="373.23" y1="648.9" x2="373.23" y2="653.6999999999999" stroke="#111" stroke-width="1.3"/>
<text transform="translate(383.23,665.10) rotate(-58)" font-size="11" text-anchor="end" fill="#111">HETE</text>
<line x1="392.87" y1="648.9" x2="392.87" y2="653.6999999999999" stroke="#111" stroke-width="1.3"/>
<text transform="translate(402.87,665.10) rotate(-58)" font-size="11" text-anchor="end" fill="#111">SFA</text>
<line x1="412.52" y1="648.9" x2="412.52" y2="653.6999999999999" stroke="#111" stroke-width="1.3"/>
<text transform="translate(422.52,665.10) rotate(-58)" font-size="11" text-anchor="end" fill="#111">FAHFA</text>
<line x1="432.16" y1="648.9" x2="432.16" y2="653.6999999999999" stroke="#111" stroke-width="1.3"/>
<text transform="translate(442.16,665.10) rotate(-58)" font-size="11" text-anchor="end" fill="#111">MUFA</text>
<line x1="451.80" y1="648.9" x2="451.80" y2="653.6999999999999" stroke="#111" stroke-width="1.3"/>
<text transform="translate(461.80,665.10) rotate(-58)" font-size="11" text-anchor="end" fill="#111">GSL</text>
<line x1="471.45" y1="648.9" x2="471.45" y2="653.6999999999999" stroke="#111" stroke-width="1.3"/>
<text transform="translate(481.45,665.10) rotate(-58)" font-size="11" text-anchor="end" fill="#111">HexCer</text>
<line x1="491.09" y1="648.9" x2="491.09" y2="653.6999999999999" stroke="#111" stroke-width="1.3"/>
<text transform="translate(501.09,665.10) rotate(-58)" font-size="11" text-anchor="end" fill="#111">Cer</text>
<line x1="510.73" y1="648.9" x2="510.73" y2="653.6999999999999" stroke="#111" stroke-width="1.3"/>
<text transform="translate(520.73,665.10) rotate(-58)" font-size="11" text-anchor="end" fill="#111">DGDG</text>
<line x1="530.38" y1="648.9" x2="530.38" y2="653.6999999999999" stroke="#111" stroke-width="1.3"/>
<text transform="translate(540.38,665.10) rotate(-58)" font-size="11" text-anchor="end" fill="#111">MGDG</text>
<line x1="108.04" y1="648.9" x2="108.04" y2="651.1999999999999" stroke="#111" stroke-width="1"/>
<line x1="127.69" y1="648.9" x2="127.69" y2="651.1999999999999" stroke="#111" stroke-width="1"/>
<line x1="147.33" y1="648.9" x2="147.33" y2="651.1999999999999" stroke="#111" stroke-width="1"/>
<line x1="166.97" y1="648.9" x2="166.97" y2="651.1999999999999" stroke="#111" stroke-width="1"/>
<line x1="186.62" y1="648.9" x2="186.62" y2="651.1999999999999" stroke="#111" stroke-width="1"/>
<line x1="206.26" y1="648.9" x2="206.26" y2="651.1999999999999" stroke="#111" stroke-width="1"/>
<line x1="225.90" y1="648.9" x2="225.90" y2="651.1999999999999" stroke="#111" stroke-width="1"/>
<line x1="245.55" y1="648.9" x2="245.55" y2="651.1999999999999" stroke="#111" stroke-width="1"/>
<line x1="265.19" y1="648.9" x2="265.19" y2="651.1999999999999" stroke="#111" stroke-width="1"/>
<line x1="284.83" y1="648.9" x2="284.83" y2="651.1999999999999" stroke="#111" stroke-width="1"/>
<line x1="304.48" y1="648.9" x2="304.48" y2="651.1999999999999" stroke="#111" stroke-width="1"/>
<line x1="324.12" y1="648.9" x2="324.12" y2="651.1999999999999" stroke="#111" stroke-width="1"/>
<line x1="343.77" y1="648.9" x2="343.77" y2="651.1999999999999" stroke="#111" stroke-width="1"/>
<line x1="363.41" y1="648.9" x2="363.41" y2="651.1999999999999" stroke="#111" stroke-width="1"/>
<line x1="383.05" y1="648.9" x2="383.05" y2="651.1999999999999" stroke="#111" stroke-width="1"/>
<line x1="402.70" y1="648.9" x2="402.70" y2="651.1999999999999" stroke="#111" stroke-width="1"/>
<line x1="422.34" y1="648.9" x2="422.34" y2="651.1999999999999" stroke="#111" stroke-width="1"/>
<line x1="441.98" y1="648.9" x2="441.98" y2="651.1999999999999" stroke="#111" stroke-width="1"/>
<line x1="461.63" y1="648.9" x2="461.63" y2="651.1999999999999" stroke="#111" stroke-width="1"/>
<line x1="481.27" y1="648.9" x2="481.27" y2="651.1999999999999" stroke="#111" stroke-width="1"/>
<line x1="500.91" y1="648.9" x2="500.91" y2="651.1999999999999" stroke="#111" stroke-width="1"/>
<line x1="520.56" y1="648.9" x2="520.56" y2="651.1999999999999" stroke="#111" stroke-width="1"/>
<line x1="540.20" y1="648.9" x2="540.20" y2="651.1999999999999" stroke="#111" stroke-width="1"/>
<line x1="97.90" y1="400" x2="97.90" y2="526" stroke="#a8a8a8" stroke-width="1"/>
<line x1="95.60" y1="400" x2="100.20" y2="400" stroke="#a8a8a8" stroke-width="1"/>
<rect x="90.20" y="526" width="15.4" height="122.90" fill="#6a88d4" stroke="#222" stroke-width="0.9"/>
<line x1="88.4" y1="384.7" x2="540.2" y2="384.7" stroke="#a0a0a0" stroke-width="1.3"/>
<line x1="147.5" y1="384.7" x2="147.5" y2="387.5" stroke="#555" stroke-width="0.8"/>
<line x1="343.3" y1="384.7" x2="343.3" y2="387.5" stroke="#555" stroke-width="0.8"/>
<line x1="442" y1="384.7" x2="442" y2="387.5" stroke="#555" stroke-width="0.8"/>
<line x1="500.9" y1="384.7" x2="500.9" y2="387.5" stroke="#555" stroke-width="0.8"/>
<line x1="540.2" y1="384.7" x2="540.2" y2="387.5" stroke="#555" stroke-width="0.8"/>
<text x="120.3" y="382.6" font-size="12" text-anchor="middle" fill="#111">GL</text>
<text x="120" y="392.7" font-size="7.9" text-anchor="middle" fill="#222">(173,628.9089)</text>
<text x="245" y="382.6" font-size="12" text-anchor="middle" fill="#111">GP</text>
<text x="245.4" y="392.7" font-size="7.9" text-anchor="middle" fill="#222">(424.3820)</text>
<text x="388.5" y="382.6" font-size="12" text-anchor="middle" fill="#111">FA</text>
<text x="391.5" y="392.7" font-size="7.9" text-anchor="middle" fill="#222">(81.8481)</text>
<text x="469.8" y="382.6" font-size="12" text-anchor="middle" fill="#111">SP</text>
<text x="474" y="392.7" font-size="7.9" text-anchor="middle" fill="#222">(30.3500)</text>
<text x="517.9" y="382.6" font-size="12" text-anchor="middle" fill="#111">SL</text>
<text x="524.3" y="392.7" font-size="7.9" text-anchor="middle" fill="#222">(12.3100)</text>
<text transform="translate(28.4,505.2) rotate(-90)" font-size="15.5" text-anchor="middle" fill="#111">Lipid content(μg/mL)</text>
<rect x="109.6" y="401.8" width="429.4" height="203.7" fill="none" stroke="#7a7a7a" stroke-width="0.85" stroke-dasharray="1.5,1.5"/>
<line x1="138.4" y1="416.0" x2="138.4" y2="557.3" stroke="#111" stroke-width="1.2"/>
<line x1="133.2" y1="557.3" x2="523" y2="557.3" stroke="#111" stroke-width="1.2"/>
<line x1="133.4" y1="557.30" x2="138.4" y2="557.30" stroke="#111" stroke-width="1.1"/>
<text x="129.6" y="560.10" font-size="10" text-anchor="end" fill="#111">0</text>
<line x1="135.9" y1="549.45" x2="138.4" y2="549.45" stroke="#111" stroke-width="1"/>
<line x1="133.4" y1="541.60" x2="138.4" y2="541.60" stroke="#111" stroke-width="1.1"/>
<text x="129.6" y="544.40" font-size="10" text-anchor="end" fill="#111">20</text>
<line x1="135.9" y1="533.75" x2="138.4" y2="533.75" stroke="#111" stroke-width="1"/>
<line x1="133.4" y1="525.90" x2="138.4" y2="525.90" stroke="#111" stroke-width="1.1"/>
<text x="129.6" y="528.70" font-size="10" text-anchor="end" fill="#111">40</text>
<line x1="135.9" y1="518.05" x2="138.4" y2="518.05" stroke="#111" stroke-width="1"/>
<line x1="133.4" y1="510.20" x2="138.4" y2="510.20" stroke="#111" stroke-width="1.1"/>
<text x="129.6" y="513.00" font-size="10" text-anchor="end" fill="#111">60</text>
<line x1="135.9" y1="502.35" x2="138.4" y2="502.35" stroke="#111" stroke-width="1"/>
<line x1="133.4" y1="494.50" x2="138.4" y2="494.50" stroke="#111" stroke-width="1.1"/>
<text x="129.6" y="497.30" font-size="10" text-anchor="end" fill="#111">80</text>
<line x1="135.9" y1="486.65" x2="138.4" y2="486.65" stroke="#111" stroke-width="1"/>
<line x1="133.4" y1="478.80" x2="138.4" y2="478.80" stroke="#111" stroke-width="1.1"/>
<text x="129.6" y="481.60" font-size="10" text-anchor="end" fill="#111">100</text>
<line x1="135.9" y1="470.95" x2="138.4" y2="470.95" stroke="#111" stroke-width="1"/>
<line x1="133.4" y1="463.10" x2="138.4" y2="463.10" stroke="#111" stroke-width="1.1"/>
<text x="129.6" y="465.90" font-size="10" text-anchor="end" fill="#111">120</text>
<line x1="135.9" y1="455.25" x2="138.4" y2="455.25" stroke="#111" stroke-width="1"/>
<line x1="133.4" y1="447.40" x2="138.4" y2="447.40" stroke="#111" stroke-width="1.1"/>
<text x="129.6" y="450.20" font-size="10" text-anchor="end" fill="#111">140</text>
<line x1="135.9" y1="439.55" x2="138.4" y2="439.55" stroke="#111" stroke-width="1"/>
<line x1="133.4" y1="431.70" x2="138.4" y2="431.70" stroke="#111" stroke-width="1.1"/>
<text x="129.6" y="434.50" font-size="10" text-anchor="end" fill="#111">160</text>
<line x1="135.9" y1="423.85" x2="138.4" y2="423.85" stroke="#111" stroke-width="1"/>
<line x1="133.4" y1="416.00" x2="138.4" y2="416.00" stroke="#111" stroke-width="1.1"/>
<text x="129.6" y="418.80" font-size="10" text-anchor="end" fill="#111">180</text>
<line x1="147.14" y1="557.3" x2="147.14" y2="561.8" stroke="#111" stroke-width="1"/>
<text transform="translate(156.64,572.80) rotate(-58)" font-size="10" text-anchor="end" fill="#111">DGGA</text>
<rect x="140.14" y="555.34" width="14" height="1.96" fill="#4060a8" stroke="#3a3a3a" stroke-width="0.75"/>
<line x1="164.62" y1="557.3" x2="164.62" y2="561.8" stroke="#111" stroke-width="1"/>
<text transform="translate(174.12,572.80) rotate(-58)" font-size="10" text-anchor="end" fill="#111">DG</text>
<rect x="157.62" y="556.83" width="14" height="0.47" fill="#4060a8" stroke="#3a3a3a" stroke-width="0.75"/>
<line x1="182.10" y1="557.3" x2="182.10" y2="561.8" stroke="#111" stroke-width="1"/>
<text transform="translate(191.60,572.80) rotate(-58)" font-size="10" text-anchor="end" fill="#111">PA</text>
<line x1="182.10" y1="432.49" x2="182.10" y2="455.25" stroke="#a0a0a0" stroke-width="0.9"/>
<line x1="179.50" y1="432.49" x2="184.70" y2="432.49" stroke="#a0a0a0" stroke-width="0.9"/>
<rect x="175.10" y="455.25" width="14" height="102.05" fill="#bcd6f3" stroke="#3a3a3a" stroke-width="0.75"/>
<line x1="199.59" y1="557.3" x2="199.59" y2="561.8" stroke="#111" stroke-width="1"/>
<text transform="translate(209.09,572.80) rotate(-58)" font-size="10" text-anchor="end" fill="#111">PE</text>
<line x1="199.59" y1="437.35" x2="199.59" y2="464.28" stroke="#a0a0a0" stroke-width="0.9"/>
<line x1="196.99" y1="437.35" x2="202.19" y2="437.35" stroke="#a0a0a0" stroke-width="0.9"/>
<rect x="192.59" y="464.28" width="14" height="93.02" fill="#bcd6f3" stroke="#3a3a3a" stroke-width="0.75"/>
<line x1="217.07" y1="557.3" x2="217.07" y2="561.8" stroke="#111" stroke-width="1"/>
<text transform="translate(226.57,572.80) rotate(-58)" font-size="10" text-anchor="end" fill="#111">PI</text>
<line x1="217.07" y1="489.00" x2="217.07" y2="509.41" stroke="#a0a0a0" stroke-width="0.9"/>
<line x1="214.47" y1="489.00" x2="219.67" y2="489.00" stroke="#a0a0a0" stroke-width="0.9"/>
<rect x="210.07" y="509.41" width="14" height="47.88" fill="#bcd6f3" stroke="#3a3a3a" stroke-width="0.75"/>
<line x1="234.55" y1="557.3" x2="234.55" y2="561.8" stroke="#111" stroke-width="1"/>
<text transform="translate(244.05,572.80) rotate(-58)" font-size="10" text-anchor="end" fill="#111">PC</text>
<line x1="234.55" y1="506.67" x2="234.55" y2="519.78" stroke="#a0a0a0" stroke-width="0.9"/>
<line x1="231.95" y1="506.67" x2="237.15" y2="506.67" stroke="#a0a0a0" stroke-width="0.9"/>
<rect x="227.55" y="519.78" width="14" height="37.52" fill="#bcd6f3" stroke="#3a3a3a" stroke-width="0.75"/>
<line x1="252.03" y1="557.3" x2="252.03" y2="561.8" stroke="#111" stroke-width="1"/>
<text transform="translate(261.53,572.80) rotate(-58)" font-size="10" text-anchor="end" fill="#111">LNAPE</text>
<line x1="252.03" y1="510.28" x2="252.03" y2="522.29" stroke="#a0a0a0" stroke-width="0.9"/>
<line x1="249.43" y1="510.28" x2="254.63" y2="510.28" stroke="#a0a0a0" stroke-width="0.9"/>
<rect x="245.03" y="522.29" width="14" height="35.01" fill="#bcd6f3" stroke="#3a3a3a" stroke-width="0.75"/>
<line x1="269.51" y1="557.3" x2="269.51" y2="561.8" stroke="#111" stroke-width="1"/>
<text transform="translate(279.01,572.80) rotate(-58)" font-size="10" text-anchor="end" fill="#111">LPA</text>
<line x1="269.51" y1="541.29" x2="269.51" y2="544.43" stroke="#a0a0a0" stroke-width="0.9"/>
<line x1="266.91" y1="541.29" x2="272.11" y2="541.29" stroke="#a0a0a0" stroke-width="0.9"/>
<rect x="262.51" y="544.43" width="14" height="12.87" fill="#bcd6f3" stroke="#3a3a3a" stroke-width="0.75"/>
<line x1="287.00" y1="557.3" x2="287.00" y2="561.8" stroke="#111" stroke-width="1"/>
<text transform="translate(296.50,572.80) rotate(-58)" font-size="10" text-anchor="end" fill="#111">PG</text>
<line x1="287.00" y1="551.65" x2="287.00" y2="552.59" stroke="#a0a0a0" stroke-width="0.9"/>
<line x1="284.40" y1="551.65" x2="289.60" y2="551.65" stroke="#a0a0a0" stroke-width="0.9"/>
<rect x="280.00" y="552.59" width="14" height="4.71" fill="#bcd6f3" stroke="#3a3a3a" stroke-width="0.75"/>
<line x1="304.48" y1="557.3" x2="304.48" y2="561.8" stroke="#111" stroke-width="1"/>
<text transform="translate(313.98,572.80) rotate(-58)" font-size="10" text-anchor="end" fill="#111">LPE</text>
<rect x="297.48" y="554.79" width="14" height="2.51" fill="#bcd6f3" stroke="#3a3a3a" stroke-width="0.75"/>
<line x1="321.96" y1="557.3" x2="321.96" y2="561.8" stroke="#111" stroke-width="1"/>
<text transform="translate(331.46,572.80) rotate(-58)" font-size="10" text-anchor="end" fill="#111">GPC</text>
<rect x="314.96" y="556.20" width="14" height="1.10" fill="#bcd6f3" stroke="#3a3a3a" stroke-width="0.75"/>
<line x1="339.44" y1="557.3" x2="339.44" y2="561.8" stroke="#111" stroke-width="1"/>
<text transform="translate(348.94,572.80) rotate(-58)" font-size="10" text-anchor="end" fill="#111">CL</text>
<line x1="356.92" y1="557.3" x2="356.92" y2="561.8" stroke="#111" stroke-width="1"/>
<text transform="translate(366.42,572.80) rotate(-58)" font-size="10" text-anchor="end" fill="#111">PUFA</text>
<line x1="356.92" y1="518.21" x2="356.92" y2="522.29" stroke="#a0a0a0" stroke-width="0.9"/>
<line x1="354.32" y1="518.21" x2="359.52" y2="518.21" stroke="#a0a0a0" stroke-width="0.9"/>
<rect x="349.92" y="522.29" width="14" height="35.01" fill="#c8e9f6" stroke="#3a3a3a" stroke-width="0.75"/>
<line x1="374.40" y1="557.3" x2="374.40" y2="561.8" stroke="#111" stroke-width="1"/>
<text transform="translate(383.90,572.80) rotate(-58)" font-size="10" text-anchor="end" fill="#111">HETE</text>
<line x1="374.40" y1="539.48" x2="374.40" y2="549.21" stroke="#a0a0a0" stroke-width="0.9"/>
<line x1="371.80" y1="539.48" x2="377.00" y2="539.48" stroke="#a0a0a0" stroke-width="0.9"/>
<rect x="367.40" y="549.21" width="14" height="8.09" fill="#c8e9f6" stroke="#3a3a3a" stroke-width="0.75"/>
<line x1="391.89" y1="557.3" x2="391.89" y2="561.8" stroke="#111" stroke-width="1"/>
<text transform="translate(401.39,572.80) rotate(-58)" font-size="10" text-anchor="end" fill="#111">SFA</text>
<rect x="384.89" y="555.10" width="14" height="2.20" fill="#c8e9f6" stroke="#3a3a3a" stroke-width="0.75"/>
<line x1="409.37" y1="557.3" x2="409.37" y2="561.8" stroke="#111" stroke-width="1"/>
<text transform="translate(418.87,572.80) rotate(-58)" font-size="10" text-anchor="end" fill="#111">FAHFA</text>
<rect x="402.37" y="556.51" width="14" height="0.78" fill="#c8e9f6" stroke="#3a3a3a" stroke-width="0.75"/>
<line x1="426.85" y1="557.3" x2="426.85" y2="561.8" stroke="#111" stroke-width="1"/>
<text transform="translate(436.35,572.80) rotate(-58)" font-size="10" text-anchor="end" fill="#111">MUFA</text>
<line x1="444.33" y1="557.3" x2="444.33" y2="561.8" stroke="#111" stroke-width="1"/>
<text transform="translate(453.83,572.80) rotate(-58)" font-size="10" text-anchor="end" fill="#111">GSL</text>
<line x1="444.33" y1="545.13" x2="444.33" y2="546.15" stroke="#a0a0a0" stroke-width="0.9"/>
<line x1="441.73" y1="545.13" x2="446.93" y2="545.13" stroke="#a0a0a0" stroke-width="0.9"/>
<rect x="437.33" y="546.15" width="14" height="11.15" fill="#d8f6e8" stroke="#3a3a3a" stroke-width="0.75"/>
<line x1="461.81" y1="557.3" x2="461.81" y2="561.8" stroke="#111" stroke-width="1"/>
<text transform="translate(471.31,572.80) rotate(-58)" font-size="10" text-anchor="end" fill="#111">HexCer</text>
<line x1="461.81" y1="547.64" x2="461.81" y2="550.39" stroke="#a0a0a0" stroke-width="0.9"/>
<line x1="459.21" y1="547.64" x2="464.41" y2="547.64" stroke="#a0a0a0" stroke-width="0.9"/>
<rect x="454.81" y="550.39" width="14" height="6.91" fill="#d8f6e8" stroke="#3a3a3a" stroke-width="0.75"/>
<line x1="479.30" y1="557.3" x2="479.30" y2="561.8" stroke="#111" stroke-width="1"/>
<text transform="translate(488.80,572.80) rotate(-58)" font-size="10" text-anchor="end" fill="#111">Cer</text>
<rect x="472.30" y="550.86" width="14" height="6.44" fill="#d8f6e8" stroke="#3a3a3a" stroke-width="0.75"/>
<line x1="496.78" y1="557.3" x2="496.78" y2="561.8" stroke="#111" stroke-width="1"/>
<text transform="translate(506.28,572.80) rotate(-58)" font-size="10" text-anchor="end" fill="#111">DGDG</text>
<line x1="496.78" y1="547.09" x2="496.78" y2="549.92" stroke="#a0a0a0" stroke-width="0.9"/>
<line x1="494.18" y1="547.09" x2="499.38" y2="547.09" stroke="#a0a0a0" stroke-width="0.9"/>
<rect x="489.78" y="549.92" width="14" height="7.38" fill="#fcd4db" stroke="#3a3a3a" stroke-width="0.75"/>
<line x1="514.26" y1="557.3" x2="514.26" y2="561.8" stroke="#111" stroke-width="1"/>
<text transform="translate(523.76,572.80) rotate(-58)" font-size="10" text-anchor="end" fill="#111">MGDG</text>
<rect x="507.26" y="554.55" width="14" height="2.75" fill="#fcd4db" stroke="#3a3a3a" stroke-width="0.75"/>
<line x1="138.40" y1="557.3" x2="138.40" y2="559.3" stroke="#111" stroke-width="1"/>
<line x1="155.88" y1="557.3" x2="155.88" y2="559.3" stroke="#111" stroke-width="1"/>
<line x1="173.36" y1="557.3" x2="173.36" y2="559.3" stroke="#111" stroke-width="1"/>
<line x1="190.85" y1="557.3" x2="190.85" y2="559.3" stroke="#111" stroke-width="1"/>
<line x1="208.33" y1="557.3" x2="208.33" y2="559.3" stroke="#111" stroke-width="1"/>
<line x1="225.81" y1="557.3" x2="225.81" y2="559.3" stroke="#111" stroke-width="1"/>
<line x1="243.29" y1="557.3" x2="243.29" y2="559.3" stroke="#111" stroke-width="1"/>
<line x1="260.77" y1="557.3" x2="260.77" y2="559.3" stroke="#111" stroke-width="1"/>
<line x1="278.25" y1="557.3" x2="278.25" y2="559.3" stroke="#111" stroke-width="1"/>
<line x1="295.74" y1="557.3" x2="295.74" y2="559.3" stroke="#111" stroke-width="1"/>
<line x1="313.22" y1="557.3" x2="313.22" y2="559.3" stroke="#111" stroke-width="1"/>
<line x1="330.70" y1="557.3" x2="330.70" y2="559.3" stroke="#111" stroke-width="1"/>
<line x1="348.18" y1="557.3" x2="348.18" y2="559.3" stroke="#111" stroke-width="1"/>
<line x1="365.66" y1="557.3" x2="365.66" y2="559.3" stroke="#111" stroke-width="1"/>
<line x1="383.15" y1="557.3" x2="383.15" y2="559.3" stroke="#111" stroke-width="1"/>
<line x1="400.63" y1="557.3" x2="400.63" y2="559.3" stroke="#111" stroke-width="1"/>
<line x1="418.11" y1="557.3" x2="418.11" y2="559.3" stroke="#111" stroke-width="1"/>
<line x1="435.59" y1="557.3" x2="435.59" y2="559.3" stroke="#111" stroke-width="1"/>
<line x1="453.07" y1="557.3" x2="453.07" y2="559.3" stroke="#111" stroke-width="1"/>
<line x1="470.55" y1="557.3" x2="470.55" y2="559.3" stroke="#111" stroke-width="1"/>
<line x1="488.04" y1="557.3" x2="488.04" y2="559.3" stroke="#111" stroke-width="1"/>
<line x1="505.52" y1="557.3" x2="505.52" y2="559.3" stroke="#111" stroke-width="1"/>
<line x1="523.00" y1="557.3" x2="523.00" y2="559.3" stroke="#111" stroke-width="1"/>
<text transform="translate(290,709.6) scale(0.9,1)" font-size="25" text-anchor="middle" fill="#000">B</text>
</svg></body></html>
